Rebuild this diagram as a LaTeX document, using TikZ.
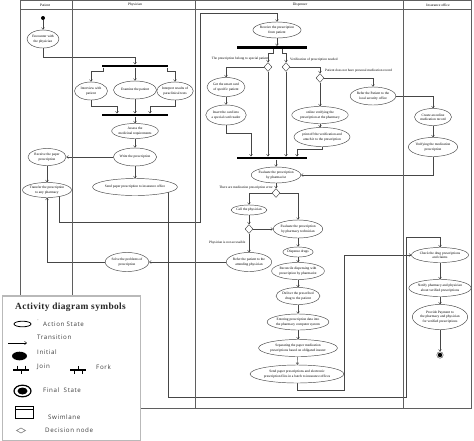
\documentclass[tikz,border=0pt]{standalone}
\usepackage{fontspec}
\setmainfont{Liberation Serif}
\newfontfamily\legfont[LetterSpace=10]{Open Sans}
\newfontfamily\titlefont[LetterSpace=4]{Liberation Serif}
\usetikzlibrary{arrows.meta,shapes.geometric,backgrounds}
\pgfdeclarelayer{foreground}
\pgfsetlayers{background,main,foreground}
\definecolor{ln}{RGB}{70,70,70}
\definecolor{lanec}{RGB}{95,95,95}
\definecolor{legc}{RGB}{60,60,60}
\tikzset{
  act/.style={ellipse, draw=ln, fill=white, line width=0.45pt, inner sep=0pt, align=center, font=\fontsize{3.5}{4.4}\selectfont},
  syncbar/.style={rectangle, fill=black, inner sep=0pt, minimum height=2.6pt},
  dec/.style={diamond, draw=ln, fill=white, line width=0.45pt, inner sep=0pt, minimum width=8pt, minimum height=9pt},
  conn/.style={draw=ln, line width=0.45pt, -{Straight Barb[length=1.8pt,width=2.8pt]}},
  lbl/.style={font=\fontsize{3.4}{4}\selectfont, inner sep=0pt},
  hdr/.style={font=\fontsize{3.6}{4}\selectfont, inner sep=0pt},
  lanel/.style={draw=lanec, line width=0.5pt},
  legt/.style={font=\legfont\fontsize{6.2}{7}\selectfont, text=legc, anchor=west, inner sep=0pt},
}
\begin{document}
\begin{tikzpicture}[x=1pt,y=-1pt]
\useasboundingbox (0,0) rectangle (474,440);
% swimlanes
\draw[lanel] (20,0.4) rectangle (471.5,408);
\draw[lanel] (20,9.5) -- (471.5,9.5);
\foreach \x in {72,195,403} \draw[lanel] (\x,0.4) -- (\x,408);
\node[hdr] (hP) at (45,5) {Patient};
\node[hdr] (hPh) at (135,5) {Physician};
\node[hdr] (hD) at (300,5) {Dispenser};
\node[hdr] (hI) at (438,5) {Insurance office};

% Patient lane
\node[circle, fill=black, inner sep=0pt, minimum size=4pt] (init) at (43,18) {};
\node[act, minimum width=32pt, minimum height=18pt] (enc) at (43,39) {Encounter with\\the physician};
\node[act, minimum width=38pt, minimum height=17pt] (recpaper) at (47,157) {Receive the paper\\prescription};
\node[act, minimum width=49pt, minimum height=15pt] (transfer) at (47,190) {Transfer the prescription\\to any pharmacy};

% Physician lane
\node[syncbar, minimum width=66pt] (fork1) at (135,66) {};
\node[act, minimum width=33pt, minimum height=18pt] (interview) at (91,91) {Interview with\\patient};
\node[act, minimum width=43pt, minimum height=18pt] (examine) at (135,90) {Examine the patient};
\node[act, minimum width=36pt, minimum height=18pt] (interpret) at (175,91) {Interpret results of\\paraclinical tests};
\node[syncbar, minimum width=66pt] (join1) at (135,115) {};
\node[act, minimum width=43pt, minimum height=15pt] (assess) at (135,131) {Assess the\\medicinal requirements};
\node[act, minimum width=42pt, minimum height=18pt] (write) at (135,157) {Write the prescription};
\node[act, minimum width=77pt, minimum height=17pt] (sendpaper) at (135,187) {Send paper prescription to insurance office};
\node[act, minimum width=42pt, minimum height=19pt] (solve) at (127,262) {Solve the problems of\\prescription};

% Dispenser lane
\node[act, minimum width=45pt, minimum height=16pt] (recv) at (277,30) {Receive the prescription\\from patient};
\node[syncbar, minimum width=70pt] (fork2) at (272,47.5) {};
\node[dec] (d1) at (268,67) {};
\node[dec] (d2) at (286,67) {};
\node[dec] (d3) at (320,78) {};
\node[act, minimum width=38pt, minimum height=19pt] (smart) at (226,87) {Get the smart card\\of specific patient};
\node[act, minimum width=38pt, minimum height=20pt] (insert) at (226,115) {Insert the card into\\a special card reader};
\node[act, minimum width=51pt, minimum height=17pt] (online) at (320,115) {online verifying the\\prescription at the pharmacy};
\node[act, minimum width=54pt, minimum height=19pt] (print) at (322,137) {print off the verification and\\attach it to the prescription};
\node[act, minimum width=43pt, minimum height=18pt] (referlocal) at (373,96) {Refer the Patient to the\\local security office};
\node[syncbar, minimum width=70pt] (join2) at (272,158) {};
\node[act, minimum width=48pt, minimum height=16pt] (evalph) at (276,175) {Evaluate the prescription\\by pharmacist};
\node[dec] (d4) at (276,193) {};
\node[act, minimum width=34pt, minimum height=10pt] (call) at (249,210) {Call the physician};
\node[dec] (d5) at (249,229) {};
\node[act, minimum width=49pt, minimum height=18pt] (evaltech) at (298,229) {Evaluate the prescription\\by pharmacy technician};
\node[act, minimum width=44pt, minimum height=19pt] (referatt) at (249,262) {Refer the patient to the\\attending physician};
\node[act, minimum width=27pt, minimum height=10pt] (dispense) at (298,252) {Dispense drugs};
\node[act, minimum width=48pt, minimum height=17pt] (reconcile) at (298,271) {Reconcile dispensing with\\prescription by pharmacist};
\node[act, minimum width=44pt, minimum height=17pt] (deliver) at (298,296) {Deliver the prescribed\\drug to the patient};
\node[act, minimum width=53pt, minimum height=16pt] (entering) at (298,322) {Entering prescription data into\\the pharmacy computer system};
\node[act, minimum width=78pt, minimum height=17pt] (separating) at (298,348) {Separating the paper medication\\prescriptions based on obligated insurer};
\node[act, minimum width=86pt, minimum height=18pt] (sendbatch) at (297,374) {Send paper prescriptions and electronic\\prescription files in a batch to insurance offices};

% Insurance lane
\node[act, minimum width=37pt, minimum height=17pt] (create) at (433,117) {Create an online\\medication record};
\node[act, minimum width=49pt, minimum height=19pt] (verifying) at (433,147) {Verifying the medication\\prescription};
\node[act, minimum width=55pt, minimum height=15pt] (check) at (440,255) {Check the drug prescriptions\\and claims};
\node[act, minimum width=54pt, minimum height=17pt] (notify) at (440,288) {Notify pharmacy and physician\\about verified prescriptions};
\node[act, minimum width=54pt, minimum height=25pt] (provide) at (440,317) {Provide Payment to\\the pharmacy and physician\\for verified prescriptions};
\node[circle, draw=ln, line width=0.4pt, inner sep=0pt, minimum size=6.5pt] (final) at (440,355) {};
\fill[black] (final.center) circle (2.2);

% guard labels
\node[lbl, anchor=east] (g1) at (268.5,59) {The prescription belong to special patient};
\node[lbl, anchor=west] (g2) at (290,60) {Verification of prescription needed};
\node[lbl, anchor=west] (g3) at (325,71) {Patient does not have personal medication record};
\node[lbl, anchor=east] (g4) at (273,188) {There are medication prescription error};
\node[lbl, anchor=west] (g5) at (209,243) {Physician is not accessible};

\begin{pgfonlayer}{background}
\fill[white] (0,0) rectangle (474,440);
\draw[conn] (init) -- (enc);
\draw[conn] (enc.south) |- (135,57) -- (fork1.north);
\draw[conn] ([xshift=-32pt]fork1.south) -- ++(0,4) -| (interview.north);
\draw[conn] (fork1.south) -- (examine.north);
\draw[conn] ([xshift=32pt]fork1.south) -- ++(0,4) -| (interpret.north);
\draw[conn] (interview.south) -- ++(0,6) -| ([xshift=-18pt]join1.north);
\draw[conn] (examine.south) -- (join1.north);
\draw[conn] (interpret.south) -- ++(0,6) -| ([xshift=15pt]join1.north);
\draw[conn] (join1.south) -- (assess.north);
\draw[conn] (assess) -- (write);
\draw[conn] (write) -- (recpaper);
\draw[conn] (write) -- (sendpaper);
\draw[conn] (recpaper) -- (transfer);
\draw[conn] ([xshift=12pt]transfer.center) -- ++(0,32) -| (200,13) -| (recv.north);
\draw[conn] (solve.west) -| (transfer.south);
\draw[conn] (referatt) -- (solve);
\draw[conn] (recv.south) -- (recv.south |- fork2.north);
\draw[conn] ([xshift=1pt]fork2.south) -- ++(0,4.5) -| (d1.north);
\draw[conn] ([xshift=10pt]fork2.south) -- ++(0,4.5) -| (d2.north);
\draw[conn] (d1.west) -| (smart.north);
\draw[conn] (d1.south) -- (d1.south |- join2.north);
\draw[conn] (d2.east) -| (d3.north);
\draw[conn] (d2.south) -- (d2.south |- join2.north);
\draw[conn] (d3.east) -| (referlocal.north);
\draw[conn] (d3.south) -- (online.north);
\draw[conn] (smart) -- (insert);
\draw[conn] (insert.south) -- ++(0,8) -| ([xshift=-21pt]join2.north);
\draw[conn] (online.south) -- (online.south |- print.north);
\draw[conn] (print.south) -- ++(0,2.5) -| ([xshift=25pt]join2.north);
\draw[conn] (join2.south -| evalph.north) -- (evalph.north);
\draw[conn] (referlocal.east) -| (create.north);
\draw[conn] (create) -- (verifying);
\draw[conn] (verifying.south) |- (evalph.east);
\draw[conn] (evalph) -- (d4);
\draw[conn] (d4.west) -| (call.north);
\draw[conn] (d4.east) -| (evaltech.north);
\draw[conn] (call) -- (d5);
\draw[conn] (d5.east) -- (evaltech.west);
\draw[conn] (d5) -- (referatt);
\draw[conn] (evaltech) -- (dispense);
\draw[conn] (dispense) -- (reconcile);
\draw[conn] (reconcile) -- (deliver);
\draw[conn] (deliver) -- (entering);
\draw[conn] (entering) -- (separating);
\draw[conn] (separating) -- (sendbatch);
\draw[conn] (sendbatch.south) |- (344,390) |- (check.west);
\draw[conn] ([xshift=33pt]sendpaper.center) |- (406,397) -- (406,237) -| (check.north);
\draw[conn] (check) -- (notify);
\draw[conn] (notify) -- (provide);
\draw[conn] (provide) -- (final);
\end{pgfonlayer}

\begin{pgfonlayer}{foreground}
\draw[draw=gray!55, line width=1.4pt, fill=white] (2.5,296) rectangle (140.5,441);
\node[font=\titlefont\bfseries\fontsize{9.4}{10}\selectfont, text=black!85, inner sep=0pt] (legtitle) at (70.5,307.5) {Activity diagram symbols};
\draw[black, line width=0.8pt] (22.5,324) ellipse (8.5 and 2.8);
\node[font=\legfont\fontsize{4}{4}\selectfont, text=legc, inner sep=0pt] (tick) at (38,321.5) {'};
\node[legt] (lg1) at (43,324) {Action State};
\draw[black, line width=0.5pt, -{Straight Barb[length=2pt,width=3.2pt]}] (8,343) -- (27,343);
\node[legt] (lg2) at (37,337) {Transition};
\fill[black] (19.5,356) ellipse (7.5 and 4.3);
\node[legt] (lg3) at (37,352.5) {Initial};
\draw[black, line width=2pt] (13,369.5) -- (29,369.5);
\draw[black, line width=1pt] (17,365.5) -- (17,369.5) (25,365.5) -- (25,369.5) (21,369.5) -- (21,374);
\node[legt] (lg4) at (37,366.5) {Join};
\draw[black, line width=2pt] (70,370) -- (86,370);
\draw[black, line width=1pt] (78,366) -- (78,370) (74,370) -- (74,374) (82,370) -- (82,374);
\node[legt] (lg5) at (96,367) {Fork};
\draw[black, line width=1.2pt] (22.5,391) ellipse (8.5 and 5.8);
\fill[black] (22.5,391) ellipse (5 and 3.5);
\node[legt] (lg6) at (43,390) {Final\ \ State};
\draw[black, line width=0.6pt] (15,406) rectangle (33,418.5);
\draw[black, line width=0.6pt] (15,409) -- (33,409);
\node[legt] (lg7) at (48,417) {Swimlane};
\draw[gray, line width=0.6pt] (21,428) -- (25.5,430.5) -- (21,433) -- (16.5,430.5) -- cycle;
\node[legt] (lg8) at (45,430.5) {Decision node};
\end{pgfonlayer}
\end{tikzpicture}
\end{document}
